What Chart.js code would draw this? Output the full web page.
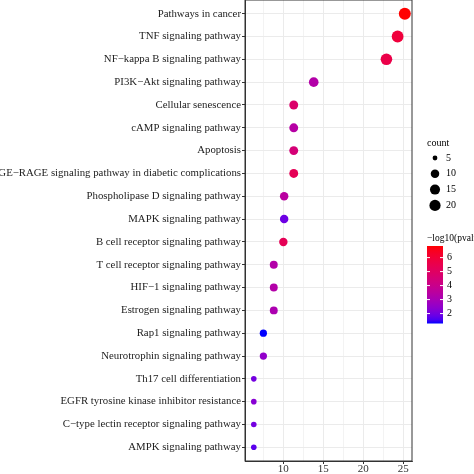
<!DOCTYPE html>
<html>
<head>
<meta charset="utf-8">
<script src="https://cdn.jsdelivr.net/npm/chart.js@4.4.1/dist/chart.umd.min.js"></script>
<style>
  body { margin: 0; background: #fff; }
  #wrap { width: 474px; height: 474px; }
</style>
</head>
<body>
<div id="wrap"><canvas id="chart" width="474" height="474"></canvas></div>
<script>
// pathways, top to bottom as in the figure
const pathways = [
    "Pathways in cancer",
    "TNF signaling pathway",
    "NF−kappa B signaling pathway",
    "PI3K−Akt signaling pathway",
    "Cellular senescence",
    "cAMP signaling pathway",
    "Apoptosis",
    "AGE−RAGE signaling pathway in diabetic complications",
    "Phospholipase D signaling pathway",
    "MAPK signaling pathway",
    "B cell receptor signaling pathway",
    "T cell receptor signaling pathway",
    "HIF−1 signaling pathway",
    "Estrogen signaling pathway",
    "Rap1 signaling pathway",
    "Neurotrophin signaling pathway",
    "Th17 cell differentiation",
    "EGFR tyrosine kinase inhibitor resistance",
    "C−type lectin receptor signaling pathway",
    "AMPK signaling pathway"
];
// x position of each dot
const xValues = [25.2, 24.3, 22.9, 13.8, 11.3, 11.3, 11.3, 11.3, 10.1, 10.1,
                 10.0, 8.8, 8.8, 8.8, 7.5, 7.5, 6.3, 6.3, 6.3, 6.3];
const counts = [20, 19, 18, 11, 9, 9, 9, 9, 8, 8,
                8, 7, 7, 7, 6, 6, 5, 5, 5, 5];
const logP = [6.83, 5.9, 5.6, 3.3, 4.8, 3.4, 4.5, 5.3, 3.5, 1.9,
              5.3, 3.3, 3.3, 3.1, 1.29, 2.5, 2.0, 2.3, 2.0, 1.7];
const xTicks = [7.5, 10, 12.5, 15, 17.5, 20, 22.5, 25];
const countBreaks = [5, 10, 15, 20];
const pBreaks = [2, 3, 4, 5, 6];

const pMin = Math.min(...logP);
const pMax = Math.max(...logP);
const cMin = Math.min(...counts);
const cMax = Math.max(...counts);

function radius(c) {
    return 2.8 + 3.2 * Math.sqrt((c - cMin) / (cMax - cMin));
}

// blue -> red in Lab space, like ggplot's scale_colour_gradient
function toLab(rgb) {
    const lin = rgb.map(v => {
        v /= 255;
        return v <= 0.04045 ? v / 12.92 : Math.pow((v + 0.055) / 1.055, 2.4);
    });
    let X = (lin[0] * 0.4124 + lin[1] * 0.3576 + lin[2] * 0.1805) / 0.95047;
    let Y = (lin[0] * 0.2126 + lin[1] * 0.7152 + lin[2] * 0.0722);
    let Z = (lin[0] * 0.0193 + lin[1] * 0.1192 + lin[2] * 0.9505) / 1.08883;
    const f = t => t > 0.008856 ? Math.cbrt(t) : 7.787 * t + 16 / 116;
    X = f(X); Y = f(Y); Z = f(Z);
    return [116 * Y - 16, 500 * (X - Y), 200 * (Y - Z)];
}
function fromLab(lab) {
    const fy = (lab[0] + 16) / 116;
    const fx = fy + lab[1] / 500;
    const fz = fy - lab[2] / 200;
    const g = t => t * t * t > 0.008856 ? t * t * t : (t - 16 / 116) / 7.787;
    const X = g(fx) * 0.95047, Y = g(fy), Z = g(fz) * 1.08883;
    const lin = [
        X * 3.2406 + Y * -1.5372 + Z * -0.4986,
        X * -0.9689 + Y * 1.8758 + Z * 0.0415,
        X * 0.0557 + Y * -0.2040 + Z * 1.0570
    ];
    return lin.map(v => {
        v = v <= 0.0031308 ? 12.92 * v : 1.055 * Math.pow(v, 1 / 2.4) - 0.055;
        return Math.round(Math.max(0, Math.min(1, v)) * 255);
    });
}
const labLow = toLab([0, 0, 255]);
const labHigh = toLab([255, 0, 0]);
function colour(v) {
    const t = Math.max(0, Math.min(1, (v - pMin) / (pMax - pMin)));
    const lab = labLow.map((a, i) => a + (labHigh[i] - a) * t);
    const rgb = fromLab(lab);
    return `rgb(${rgb[0]},${rgb[1]},${rgb[2]})`;
}

const serif = "'Liberation Serif', 'DejaVu Serif', serif";

const extras = {
    id: 'extras',
    afterDraw(chart) {
        const ctx = chart.ctx;
        const a = chart.chartArea;
        ctx.save();
        // panel border
        ctx.strokeStyle = '#333333';
        ctx.lineWidth = 1;
        ctx.strokeRect(a.left, a.top, a.right - a.left, a.bottom - a.top);

        ctx.font = '10px ' + serif;
        ctx.fillStyle = '#000';
        ctx.textBaseline = 'middle';
        ctx.textAlign = 'left';

        // size legend
        ctx.fillText('count', 427, 143);
        countBreaks.forEach((c, i) => {
            const y = 158 + i * 15.8;
            ctx.beginPath();
            ctx.arc(435, y, radius(c) - 0.4, 0, Math.PI * 2);
            ctx.fillStyle = '#000';
            ctx.fill();
            ctx.fillText(String(c), 446, y);
        });

        // colour bar
        ctx.font = '9.5px ' + serif;
        ctx.fillText('−log10(pvalue)', 427, 238);
        ctx.font = '10px ' + serif;
        const top = 246, bot = 323.5, left = 427, right = 443;
        const grad = ctx.createLinearGradient(0, bot, 0, top);
        for (let i = 0; i <= 20; i++) {
            grad.addColorStop(i / 20, colour(pMin + (pMax - pMin) * i / 20));
        }
        ctx.fillStyle = grad;
        ctx.fillRect(left, top, right - left, bot - top);
        ctx.strokeStyle = '#fff';
        pBreaks.forEach(v => {
            const y = bot - (v - pMin) / (pMax - pMin) * (bot - top);
            ctx.beginPath();
            ctx.moveTo(left, y); ctx.lineTo(left + 3, y);
            ctx.moveTo(right - 3, y); ctx.lineTo(right, y);
            ctx.stroke();
            ctx.fillStyle = '#000';
            ctx.fillText(String(v), 447, y);
        });
        ctx.restore();
    }
};

const chart = document.querySelector('#chart');
const myChart = new Chart(chart, {
    type: 'scatter',
    data: {
        datasets: [{
            data: xValues.map((x, i) => ({ x: x, y: i })),
            pointRadius: counts.map(radius),
            pointHoverRadius: counts.map(radius),
            backgroundColor: logP.map(colour),
            borderWidth: 0
        }]
    },
    options: {
        responsive: false,
        animation: false,
        events: [],
        layout: { autoPadding: false, padding: { top: 0, right: 62, bottom: 0, left: 0 } },
        plugins: { legend: { display: false }, tooltip: { enabled: false } },
        scales: {
            x: {
                type: 'linear',
                min: 5.2,
                max: 26.1,
                afterBuildTicks: axis => { axis.ticks = xTicks.map(v => ({ value: v })); },
                afterFit: axis => { axis.height = 13; axis.paddingLeft = 0; axis.paddingRight = 0; },
                border: { color: '#333333' },
                grid: {
                    color: '#EBEBEB',
                    lineWidth: ctx => (ctx.tick && ctx.tick.value % 5 === 0) ? 1 : 0.6,
                    tickColor: ctx => (ctx.tick && ctx.tick.value % 5 === 0) ? '#333333' : 'rgba(0,0,0,0)',
                    tickLength: 3
                },
                ticks: {
                    autoSkip: false,
                    maxRotation: 0,
                    padding: -1,
                    color: '#333',
                    font: { family: serif, size: 11 },
                    callback: v => (v % 5 === 0 ? String(v) : '')
                }
            },
            y: {
                type: 'linear',
                reverse: true,
                min: -0.6,
                max: pathways.length - 0.4,
                afterBuildTicks: axis => { axis.ticks = pathways.map((p, i) => ({ value: i })); },
                afterFit: axis => { axis.width = 245; axis.paddingTop = 0; axis.paddingBottom = 0; },
                border: { color: '#333333' },
                grid: { color: '#EBEBEB', tickColor: '#333333', tickLength: 3 },
                ticks: {
                    autoSkip: false,
                    padding: 1,
                    color: '#222',
                    font: { family: serif, size: 10.8 },
                    callback: v => pathways[v]
                }
            }
        }
    },
    plugins: [extras]
});
</script>
</body>
</html>
